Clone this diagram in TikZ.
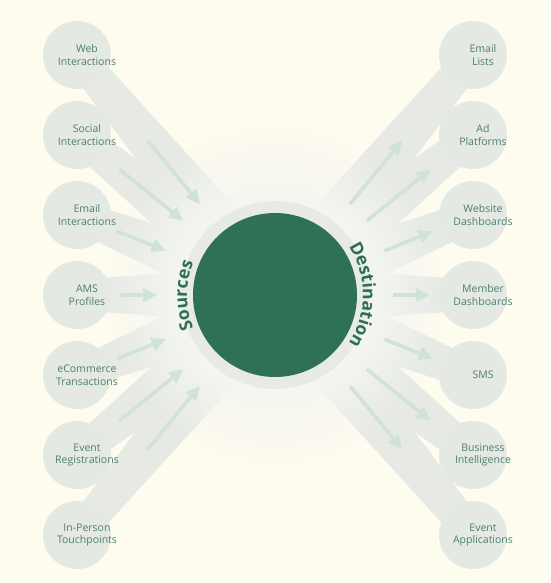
\documentclass[tikz,border=0pt]{standalone}
\usepackage{fontspec}
\setmainfont{Open Sans}
\usetikzlibrary{calc,arrows.meta,fadings,decorations.text}

\definecolor{paper}{HTML}{FEFBEF}
\definecolor{chipgray}{HTML}{E5E9E4}
\definecolor{bandgray}{HTML}{E6E9E4}
\definecolor{halo}{HTML}{F5F6F1}
\definecolor{ringgray}{HTML}{E7EAE6}
\definecolor{coregreen}{HTML}{2E7155}
\definecolor{tagtext}{HTML}{4D7E6E}
\definecolor{flowgreen}{HTML}{CFE3D6}
\definecolor{ringtext}{HTML}{2E6E54}

\newcommand\hubfont{\bfseries\fontsize{17.5}{17.5}\selectfont}

% soft glow: opaque in the middle, fading out towards the edge
\pgfdeclareradialshading{glowshade}{\pgfpointorigin}{color(0bp)=(pgftransparent!0);
  color(14bp)=(pgftransparent!0); color(25bp)=(pgftransparent!100);
  color(50bp)=(pgftransparent!100)}
\pgfdeclarefading{glow}{\pgfuseshading{glowshade}}

\pgfdeclarelayer{background}
\pgfsetlayers{background,main}

\tikzset{
  chip/.style={circle, fill=chipgray, minimum size=68pt, inner sep=0pt},
  tag/.style={align=center, text=tagtext, font=\fontsize{10.5}{12.7}\selectfont},
  flow/.style={line width=3.5pt, draw=flowgreen, -{Triangle[length=14pt,width=13pt]}},
}

\begin{document}
\begin{tikzpicture}[x=1pt,y=-1pt]
  \useasboundingbox (0,0) rectangle (550,583);

  % Hub in the middle
  \node[circle, fill=ringgray, minimum size=188pt, inner sep=0pt] (hub) at (275,295) {};
  \node[circle, fill=coregreen, minimum size=164pt, inner sep=0pt] (core) at (hub.center) {};

  % Sources on the left
  \foreach \i/\y/\txt in {1/55/{Web\\Interactions}, 2/135/{Social\\Interactions},
      3/215/{Email\\Interactions}, 4/295/{AMS\\Profiles},
      5/375/{eCommerce\\Transactions}, 6/455/{Event\\Registrations},
      7/535/{In-Person\\Touchpoints}} {
    \node[chip] (src\i) at (77,\y) {};
    \node[tag] (srctag\i) at ([xshift=10pt]src\i.center) {\txt};
  }

  % Destinations on the right
  \foreach \i/\y/\txt in {1/55/{Email\\Lists}, 2/135/{Ad\\Platforms},
      3/215/{Website\\Dashboards}, 4/295/{Member\\Dashboards},
      5/375/{SMS}, 6/455/{Business\\Intelligence},
      7/535/{Event\\Applications}} {
    \node[chip] (dst\i) at (473,\y) {};
    \node[tag] (dsttag\i) at ([xshift=10pt]dst\i.center) {\txt};
  }

  % Beams and glow behind everything
  \begin{pgfonlayer}{background}
    \fill[paper] (0,0) rectangle (550,583);
    \foreach \n in {src,dst} {
      \foreach \i in {1,...,7} {
        \fill[bandgray] ($(\n\i.center)!15pt!90:(hub.center)$)
          -- ($(hub.center)!30pt!-90:(\n\i.center)$)
          -- ($(hub.center)!30pt!90:(\n\i.center)$)
          -- ($(\n\i.center)!15pt!-90:(hub.center)$) -- cycle;
      }
    }
    \fill[halo, path fading=glow] (hub.center) circle (170pt);
  \end{pgfonlayer}

  % Arrows
  \foreach \i/\r in {1/200pt, 2/200pt, 3/170pt, 4/155pt, 5/170pt, 6/200pt, 7/200pt} {
    \draw[flow] ($(hub.center)!\r!(src\i.center)$) -- ($(hub.center)!118pt!(src\i.center)$);
    \draw[flow] ($(hub.center)!118pt!(dst\i.center)$) -- ($(hub.center)!\r!(dst\i.center)$);
  }

  % Labels round the ring
  \path[decorate, decoration={text along path, text align=center, text color=ringtext,
      text={|\hubfont|Sources}}]
    ([shift={(210:88pt)}]hub.center) arc[start angle=210, end angle=150, radius=88pt];
  \path[decorate, decoration={text along path, text align=center, text color=ringtext,
      text={|\hubfont|Destination}}]
    ([shift={(40:88pt)}]hub.center) arc[start angle=40, end angle=-40, radius=88pt];
\end{tikzpicture}
\end{document}
